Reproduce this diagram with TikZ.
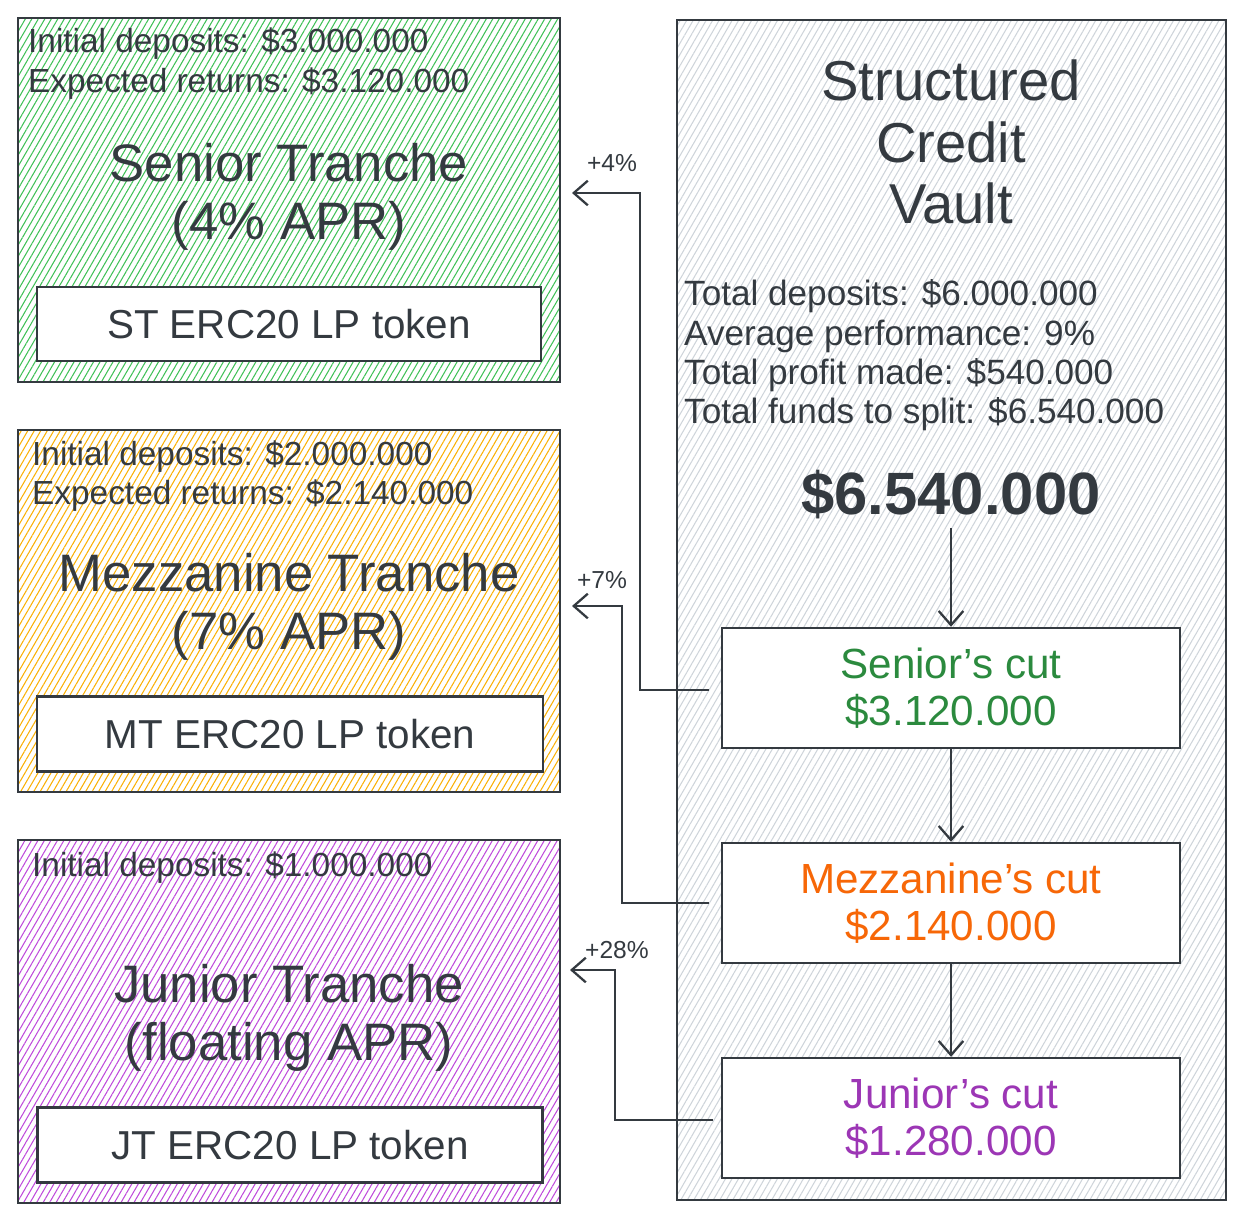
\documentclass[tikz,border=0pt]{standalone}
\usepackage{fontspec}
\setmainfont{Liberation Sans}
\usetikzlibrary{patterns.meta,arrows.meta}
\definecolor{ink}{HTML}{343A40}
\definecolor{sgreen}{HTML}{40C057}
\definecolor{dgreen}{HTML}{2B8A3E}
\definecolor{sorange}{HTML}{FAB005}
\definecolor{dorange}{HTML}{F76707}
\definecolor{spurple}{HTML}{BE4BDB}
\definecolor{dpurple}{HTML}{9C36B5}
\definecolor{sgray}{HTML}{CED4DA}
\tikzset{
  hatch/.style={draw=ink,line width=1.2pt,pattern={Lines[angle=60,distance=3.2pt,line width=0.6pt]},pattern color=#1},
  wbox/.style={draw=ink,line width=1.4pt,fill=white},
  conn/.style={draw=ink,line width=1.3pt,-{Straight Barb[length=8pt,width=14pt]}},
  small/.style={font=\fontsize{19}{22}\selectfont,text=ink,anchor=west},
  vsmall/.style={font=\fontsize{20}{24}\selectfont,text=ink,anchor=west},
  title/.style={font=\fontsize{30}{33}\selectfont,text=ink,align=center},
  tok/.style={font=\fontsize{23}{26}\selectfont,text=ink},
  cut/.style={wbox,minimum width=458*0.02cm,minimum height=120*0.02cm,align=center,font=\fontsize{24}{27}\selectfont},
}
\begin{document}
\begin{tikzpicture}[x=0.02cm,y=-0.02cm]
\useasboundingbox (0,0) rectangle (1244,1221);
% tranche boxes
\path[hatch=sgreen] (18,18) rectangle (560,382);
\path[hatch=sorange] (18,430) rectangle (560,792);
\path[hatch=spurple] (18,840) rectangle (560,1203);
\path[hatch=sgray] (677,20) rectangle (1226,1200);
% senior
\node[small] (s1) at (22,44) {Initial deposits: \$3.000.000};
\node[small] (s2) at (22,84) {Expected returns: \$3.120.000};
\node[title] (st) at (289,197) {Senior Tranche\\(4\% APR)};
\node[wbox,minimum width=504*0.02cm,minimum height=74*0.02cm,tok] (stok) at (289,324) {ST ERC20 LP token};
% mezz
\node[small] (m1) at (26,457) {Initial deposits: \$2.000.000};
\node[small] (m2) at (26,496) {Expected returns: \$2.140.000};
\node[title] (mt) at (289,607) {Mezzanine Tranche\\(7\% APR)};
\node[wbox,minimum width=506*0.02cm,minimum height=75*0.02cm,tok] (mtok) at (290,734) {MT ERC20 LP token};
% junior
\node[small] (j1) at (26,868) {Initial deposits: \$1.000.000};
\node[title] (jt) at (289,1018) {Junior Tranche\\(floating APR)};
\node[wbox,minimum width=505*0.02cm,minimum height=75*0.02cm,tok] (jtok) at (290,1145) {JT ERC20 LP token};
% vault
\node[title,font=\fontsize{32}{35}\selectfont] (vt) at (951,142) {Structured\\Credit\\Vault};
\node[vsmall] (v1) at (678,296) {Total deposits: \$6.000.000};
\node[vsmall] (v2) at (678,336) {Average performance: 9\%};
\node[vsmall] (v3) at (678,375) {Total profit made: \$540.000};
\node[vsmall] (v4) at (678,414) {Total funds to split: \$6.540.000};
\node[font=\bfseries\fontsize{34}{40}\selectfont,text=ink] (tot) at (951,495) {\$6.540.000};
\node[cut,text=dgreen] (sc) at (951,688) {Senior's cut\\\$3.120.000};
\node[cut,text=dorange] (mc) at (951,903) {Mezzanine's cut\\\$2.140.000};
\node[cut,text=dpurple] (jc) at (951,1118) {Junior's cut\\\$1.280.000};
\draw[conn] (951,528) -- (sc.north);
\draw[conn] (sc.south) -- (mc.north);
\draw[conn] (mc.south) -- (jc.north);
% connectors
\coordinate (e1) at (572,193);
\coordinate (e2) at (572,606);
\coordinate (e3) at (570,970);
\draw[conn] (sc.west|-0,690) ++(-12,0) -- (640,690) -- (640,193) -- (e1);
\draw[conn] (mc.west|-0,903) ++(-12,0) -- (622,903) -- (622,606) -- (e2);
\draw[conn] (jc.west|-0,1120) ++(-8,0) -- (615,1120) -- (615,970) -- (e3);
\node[font=\fontsize{14}{16}\selectfont,text=ink] (l1) at (612,163) {+4\%};
\node[font=\fontsize{14}{16}\selectfont,text=ink] (l2) at (602,580) {+7\%};
\node[font=\fontsize{14}{16}\selectfont,text=ink] (l3) at (617,950) {+28\%};
\end{tikzpicture}
\end{document}
